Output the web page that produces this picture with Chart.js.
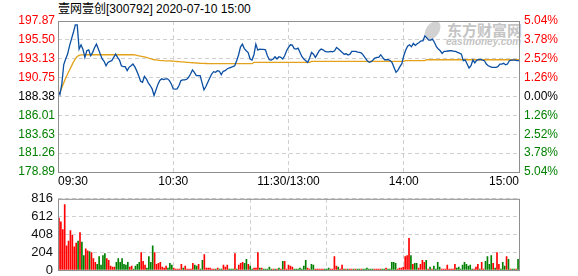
<!DOCTYPE html>
<html>
<head>
<meta charset="utf-8">
<script src="https://cdn.jsdelivr.net/npm/chart.js@4/dist/chart.umd.min.js"></script>
<style>
  html, body { margin: 0; padding: 0; background: #fff; overflow: hidden; }
  body { width: 578px; height: 276px; position: relative; font-family: Arial, "Liberation Sans", "Noto Sans CJK SC", sans-serif; }
  canvas { position: absolute; left: 0; }
  #title { position: absolute; left: 58px; top: 3px; font-size: 12px; line-height: 13px; color: #000; white-space: nowrap; }
  .wm { position: absolute; color: #c4c4c4; white-space: nowrap; font-weight: bold; }
</style>
</head>
<body>
<div id="title">壹网壹创[300792] 2020-07-10 15:00</div>
<div class="wm" style="left:426px;top:20px;width:13px;height:21px;border-radius:50%;background:#d2d2d2;transform:rotate(35deg);"></div>
<div class="wm" style="left:447px;top:22px;font-size:15px;line-height:16px;font-family:'Noto Sans CJK SC',sans-serif;">东方财富网</div>
<div class="wm" style="left:446px;top:37px;font-size:10px;line-height:10px;font-style:italic;">eastmoney.com</div>
<canvas id="price" width="578" height="190" style="top:0"></canvas>
<canvas id="vol" width="578" height="100" style="top:186px"></canvas>
<script>
// 昨收 / 刻度
const prevClose = 188.38;
const priceTicks = [197.87, 195.50, 193.13, 190.75, 188.38, 186.01, 183.63, 181.26, 178.89];
const pctTicks = ['5.04%', '3.78%', '2.52%', '1.26%', '0.00%', '1.26%', '2.52%', '3.78%', '5.04%'];
const timeLabels = ['09:30', '10:30', '11:30/13:00', '14:00', '15:00'];
const timeIndex = [0, 60, 120, 180, 240];
const volTicks = [0, 204, 408, 612, 816];

// 分时价格 09:30-11:30
const priceAM = [
  189.05,188.63,189.96,192.4,193.09,193.71,194.75,195.59,196.42,197.38,
  197.38,194.34,194.88,194.3,193.29,194.13,194.25,193.5,193.9,194.5,
  194.96,194.34,193.71,193.09,192.8,192.25,192.67,192.8,192.88,193.29,
  193.71,193.29,192.96,192.25,192.13,192.13,191.63,192.05,192.25,192.46,
  192.1,191.6,191.0,190.3,190.17,190.9,190.6,190.1,189.76,189.34,
  188.5,189.2,189.9,190.4,190.6,190.5,190.6,190.6,190.38,189.96,
  189.34,189.3,189.34,189.76,190.38,190.46,190.46,190.55,190.8,191.2,
  191.71,191.42,191.0,191.0,191.0,190.1,189.21,189.63,190.17,190.71,
  191.2,191.5,191.42,191.63,191.55,191.13,191.55,191.63,191.84,191.96,
  192.05,192.13,192.25,192.88,193.6,194.6,194.96,194.4,194.13,193.9,
  193.09,192.96,193.63,194.96,194.21,194.34,194.3,194.3,194.25,193.5,
  193.0,192.96,193.09,193.38,193.09,193.38,193.3,193.09,193.5,194.13,
  194.55
];
// 分时价格 13:01-15:00
const pricePM = [
  194.88,194.84,194.4,194.34,194.46,193.92,193.38,193.09,192.88,192.67,
  193.21,193.92,193.7,193.29,193.7,194.13,194.34,194.25,194.05,194.0,
  194.0,194.05,194.0,194.13,194.55,194.34,194.13,193.9,193.7,193.75,
  193.59,193.7,194.05,194.05,194.05,193.96,193.92,193.84,193.55,193.2,
  192.88,192.67,192.75,192.96,193.21,193.3,193.3,193.63,193.3,193.0,
  193.0,193.0,192.88,192.6,192.0,191.42,191.7,192.13,192.5,193.5,
  194.2,194.7,194.88,194.63,195.05,194.8,195.0,195.17,195.38,195.38,
  196.0,195.75,195.46,195.46,195.59,195.17,194.63,194.34,194.13,193.79,
  194.05,194.05,194.1,194.13,194.13,194.05,194.05,193.92,193.84,193.71,
  192.88,192.96,192.46,191.96,192.25,192.96,192.6,192.96,193.0,193.05,
  192.96,192.88,192.46,192.25,192.13,192.05,192.05,192.05,192.13,192.46,
  192.46,192.55,192.38,192.46,192.88,192.96,192.96,192.96,192.88,192.88
];
// 均价
const avgAM = [
  188.63,188.9,189.5,190.1,190.7,191.2,191.7,192.2,192.7,193.1,
  193.4,193.55,193.6,193.62,193.62,193.63,193.63,193.63,193.63,193.63,
  193.63,193.63,193.63,193.63,193.63,193.63,193.63,193.63,193.63,193.63,
  193.63,193.63,193.63,193.63,193.63,193.63,193.63,193.63,193.63,193.63,
  193.6,193.55,193.5,193.45,193.4,193.35,193.3,193.22,193.15,193.08,
  193.0,192.98,192.95,192.92,192.9,192.88,192.87,192.86,192.85,192.84,
  192.83,192.8,192.78,192.76,192.74,192.72,192.7,192.68,192.66,192.64,
  192.62,192.6,192.59,192.58,192.56,192.55,192.54,192.53,192.52,192.51,
  192.5,192.5,192.5,192.5,192.5,192.5,192.5,192.5,192.5,192.5,
  192.5,192.5,192.5,192.5,192.5,192.5,192.5,192.5,192.5,192.5,
  192.5,192.5,192.67,192.67,192.67,192.67,192.67,192.67,192.67,192.67,
  192.67,192.67,192.67,192.67,192.67,192.67,192.67,192.67,192.67,192.67,
  192.67
];
const avgPM = [
  192.67,192.67,192.67,192.67,192.67,192.67,192.67,192.67,192.67,192.67,
  192.67,192.8,192.8,192.8,192.8,192.8,192.8,192.8,192.8,192.8,
  192.8,192.8,192.8,192.8,192.8,192.8,192.8,192.8,192.8,192.8,
  192.8,192.8,192.8,192.8,192.8,192.8,192.8,192.8,192.8,192.8,
  192.8,192.8,192.8,192.8,192.8,192.8,192.8,192.8,192.8,192.8,
  192.8,192.8,192.8,192.8,192.8,192.8,192.8,192.8,192.8,192.8,
  192.88,192.88,192.88,192.88,192.88,192.88,192.88,192.88,192.88,192.88,
  192.88,193.0,193.0,193.0,193.0,193.0,193.0,193.0,193.0,193.0,
  193.0,193.0,193.0,193.0,193.0,193.0,193.0,193.0,193.0,193.0,
  193.0,193.0,193.0,193.0,193.0,193.0,193.0,193.0,193.0,193.0,
  193.0,193.0,193.0,193.0,193.0,193.0,193.0,193.0,193.0,193.0,
  193.0,193.0,193.0,193.0,193.0,193.0,193.0,193.0,193.0,193.0
];
// 成交量 (手)
const volAM = [
  595,551,463,750,276,331,452,397,265,309,
  331,430,320,165,243,221,210,199,132,88,
  66,154,55,165,187,132,110,44,33,33,
  88,132,88,132,66,55,88,33,44,11,
  44,66,88,199,99,55,22,154,88,276,
  199,66,77,88,33,22,44,22,77,55,
  22,11,11,11,66,22,44,11,11,11,
  77,55,44,66,11,110,176,22,22,22,
  11,11,11,22,11,11,55,33,55,11,
  11,11,187,11,55,77,88,77,121,66,
  44,11,22,22,199,22,22,11,11,11,
  33,11,11,11,11,22,11,99,99,11,
  55
];
const volPM = [
  44,33,11,11,11,22,11,44,110,22,
  11,66,55,11,11,11,11,11,11,11,
  22,11,11,154,44,33,11,55,11,11,
  11,11,11,11,11,11,11,11,11,
  11,22,11,11,11,11,11,11,11,11,
  11,22,11,11,88,88,77,11,22,22,
  33,154,165,364,165,66,77,77,22,66,
  110,88,110,11,33,11,44,11,88,33,
  11,11,11,55,11,11,11,66,22,33,
  11,55,88,66,44,55,11,11,33,66,
  11,88,11,99,154,66,165,77,22,199,
  66,11,88,44,154,121,11,11,11,11,
  121
];
// 涨跌方向 1 红 / -1 绿
const dirAM = [
  1,1,1,1,1,1,1,1,1,1, -1,1,-1,-1,1,1,-1,1,1,1,
  -1,-1,-1,-1,-1,1,1,1,1,1, -1,-1,-1,-1,-1,-1,-1,1,1,-1,
  -1,-1,-1,1,1,1,-1,-1,-1,-1, 1,1,1,1,1,1,1,-1,-1,-1,
  1,1,1,1,1,-1,1,1,1,1, 1,-1,-1,1,-1,-1,1,1,1,1,
  1,1,-1,1,-1,-1,1,1,1,-1, -1,-1,1,-1,1,1,1,-1,-1,1,
  -1,-1,1,1,1,-1,1,-1,-1,-1, -1,-1,1,-1,1,-1,1,-1,1,1,
  1
];
const dirPM = [
  1,1,-1,-1,-1,-1,-1,-1,-1,1,
  1,-1,-1,1,1,1,1,1,-1,-1,
  -1,1,1,1,1,-1,1,1,-1,1,
  -1,1,1,-1,1,-1,-1,1,-1,
  -1,-1,-1,-1,-1,1,1,1,1,-1,
  -1,1,-1,-1,-1,-1,-1,1,1,1,
  1,1,1,1,-1,1,-1,-1,1,1,
  1,1,-1,1,-1,1,-1,-1,-1,-1,
  1,1,1,1,1,1,1,1,-1,-1,
  -1,-1,-1,-1,-1,-1,-1,1,1,1,
  -1,1,1,-1,-1,-1,-1,1,-1,1,
  1,-1,-1,-1,1,-1,1,-1,-1,1,
  -1
];

const price = priceAM.concat(pricePM);
const avg = avgAM.concat(avgPM);
const vol = volAM.concat(volPM);
const dir = dirAM.concat(dirPM);
const minutes = vol.map((v, i) => i);

const RED = '#ff0000', GREEN = '#008000', GRID = '#d0d0d0', FRAME = '#8e8e8e';
const FONT = 'Arial, "Liberation Sans", sans-serif';

const frame = {
  id: 'frame',
  afterDraw(chart) {
    const a = chart.chartArea, c = chart.ctx;
    c.save();
    c.strokeStyle = FRAME;
    c.lineWidth = 1;
    c.strokeRect(a.left + 0.5, a.top + 0.5, a.right - a.left, a.bottom - a.top);
    c.restore();
  }
};

// 时间标签: 首尾对齐边框
const timeAxis = {
  id: 'timeAxis',
  afterDraw(chart) {
    const x = chart.scales.x, c = chart.ctx;
    c.save();
    c.font = '12px ' + FONT;
    c.fillStyle = '#000';
    c.textBaseline = 'middle';
    timeLabels.forEach((t, i) => {
      const px = x.getPixelForValue(timeIndex[i]);
      c.textAlign = i === 0 ? 'left' : (i === timeLabels.length - 1 ? 'right' : 'center');
      c.fillText(t, px, chart.chartArea.bottom + 10);
    });
    c.restore();
  }
};

const tickColor = v => v > prevClose ? RED : (v < prevClose ? GREEN : '#000');
const gridTicks = s => { s.ticks = [60, 120, 180].map(v => ({ value: v })); };

new Chart(document.getElementById('price'), {
  type: 'line',
  data: {
    datasets: [
      { data: price.map((v, i) => ({ x: i, y: v })), borderColor: '#0b4fa3', borderWidth: 1.3, pointRadius: 0, tension: 0 },
      { data: avg.map((v, i) => ({ x: i, y: v })), borderColor: '#e3a21a', borderWidth: 1.3, pointRadius: 0, tension: 0 }
    ]
  },
  options: {
    responsive: false,
    animation: false,
    layout: { padding: { top: 21, left: 0, right: 0, bottom: 0 } },
    plugins: { legend: { display: false }, tooltip: { enabled: false } },
    scales: {
      x: {
        type: 'linear', min: 0, max: 240,
        afterBuildTicks: gridTicks,
        afterFit: s => { s.height = 18; },
        ticks: { display: false },
        grid: { color: GRID, drawTicks: false },
        border: { display: false, dash: [4, 3] }
      },
      y: {
        position: 'left', min: 178.89, max: 197.87,
        afterBuildTicks: s => { s.ticks = priceTicks.slice().reverse().map(v => ({ value: v })); },
        afterFit: s => { s.width = 58; },
        ticks: {
          padding: 3, autoSkip: false,
          font: { size: 12, family: FONT },
          color: ctx => tickColor(ctx.tick.value),
          callback: v => v.toFixed(2)
        },
        grid: { color: GRID, drawTicks: false },
        border: { display: false, dash: [4, 3] }
      },
      y2: {
        position: 'right', min: 178.89, max: 197.87,
        afterBuildTicks: s => { s.ticks = priceTicks.slice().reverse().map(v => ({ value: v })); },
        afterFit: s => { s.width = 59; },
        ticks: {
          padding: 5, autoSkip: false,
          font: { size: 12, family: FONT },
          color: ctx => tickColor(ctx.tick.value),
          callback: v => pctTicks[priceTicks.indexOf(v)]
        },
        grid: { display: false, drawTicks: false },
        border: { display: false }
      }
    }
  },
  plugins: [frame, timeAxis]
});

new Chart(document.getElementById('vol'), {
  type: 'bar',
  data: {
    labels: minutes,
    datasets: [{
      data: vol,
      backgroundColor: dir.map(d => d > 0 ? RED : GREEN),
      barThickness: 1
    }]
  },
  options: {
    responsive: false,
    animation: false,
    layout: { padding: { top: 10, left: 0, right: 59, bottom: 16 } },
    plugins: { legend: { display: false }, tooltip: { enabled: false } },
    scales: {
      x: {
        type: 'category',
        afterFit: s => { s.height = 0; },
        ticks: { display: false },
        grid: { display: false, drawTicks: false },
        border: { display: false }
      },
      xg: {
        type: 'linear', position: 'bottom', min: -0.5, max: 240.5,
        afterBuildTicks: gridTicks,
        afterFit: s => { s.height = 0; },
        ticks: { display: false },
        grid: { color: GRID, drawTicks: false },
        border: { display: false, dash: [4, 3] }
      },
      y: {
        min: 0, max: 816,
        afterBuildTicks: s => { s.ticks = volTicks.map(v => ({ value: v })); },
        afterFit: s => { s.width = 58; },
        ticks: { padding: 5, autoSkip: false, font: { size: 13, family: FONT }, color: '#111' },
        grid: { color: GRID, drawTicks: false },
        border: { display: false, dash: [4, 3] }
      }
    }
  },
  plugins: [frame]
});
</script>
</body>
</html>
